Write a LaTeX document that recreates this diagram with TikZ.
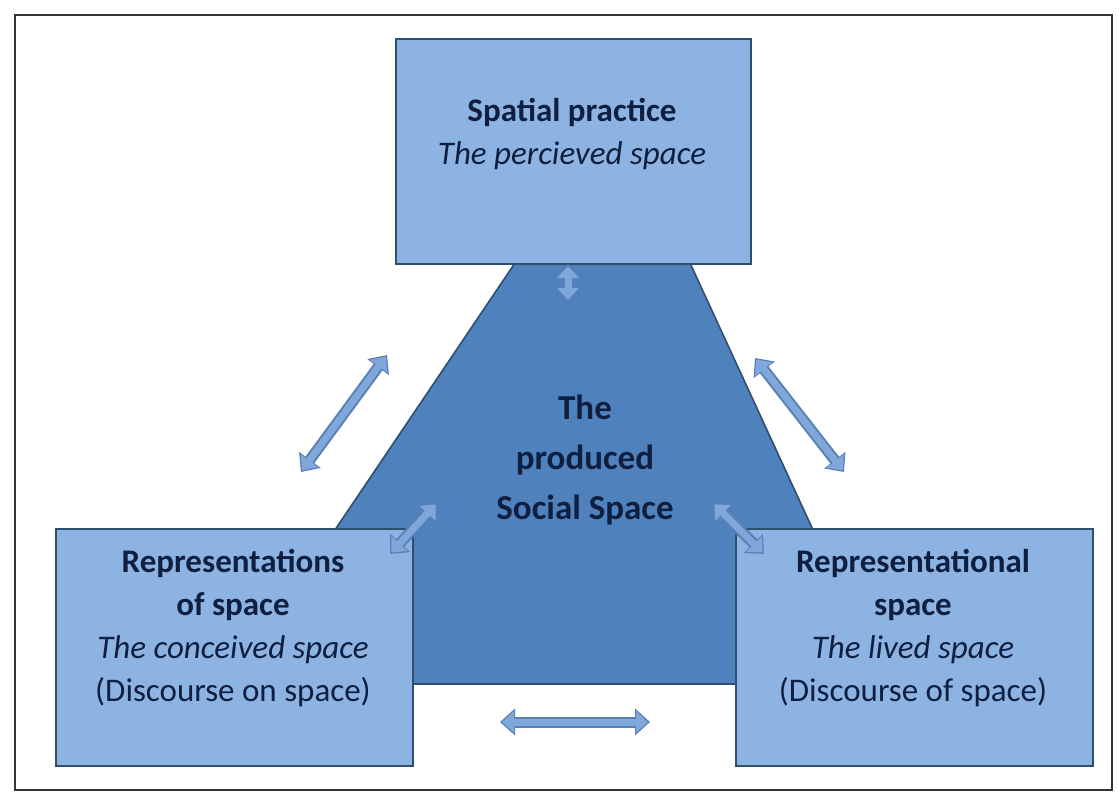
\documentclass[tikz,border=0pt]{standalone}
\usepackage{fontspec}
\setmainfont{Carlito}
\usetikzlibrary{arrows.meta}
\definecolor{boxfill}{HTML}{8DB3E2}
\definecolor{trifill}{HTML}{4F81BD}
\definecolor{edge}{HTML}{2F4F6F}
\definecolor{txt}{HTML}{0F1F3F}
\definecolor{arr}{HTML}{7FA7DA}
\definecolor{arredge}{HTML}{5A7FB5}
\tikzset{
  box/.style={draw=edge, line width=1.6pt, fill=boxfill, inner sep=0pt},
  dbl/.style={line width=11pt, arredge, {Triangle[width=26pt,length=15pt]}-{Triangle[width=26pt,length=15pt]}},
  dbli/.style={line width=7pt, arr, {Triangle[width=21pt,length=12pt]}-{Triangle[width=21pt,length=12pt]}, shorten <=2pt, shorten >=2pt},
}
\begin{document}
\begin{tikzpicture}[x=1pt,y=-1pt]
\useasboundingbox (0,0) rectangle (1119,801);
\draw[line width=1.2pt, black!80] (15,15) rectangle (1112,790);
% trapezoid
\draw[draw=edge, line width=1.6pt, fill=trifill] (515,263) -- (690,263) -- (884,684) -- (231,684) -- cycle;
% boxes
\node[box, minimum width=355, minimum height=225, anchor=north west] (top) at (395,38) {};
\node[box, minimum width=357, minimum height=237, anchor=north west] (left) at (55,528) {};
\node[box, minimum width=357, minimum height=237, anchor=north west] (right) at (735,528) {};
% texts
\node[txt, align=center, font=\fontsize{33}{43}\selectfont] (ttop) at (572,134) {\textbf{Spatial practice}\\\textit{The percieved space}};
\node[txt, align=center, font=\fontsize{35}{50}\selectfont\bfseries] (tmid) at (585,460) {The\\produced\\Social Space};
\node[txt, align=center, font=\fontsize{33}{43}\selectfont] (tleft) at (233,628) {\textbf{Representations}\\\textbf{of space}\\\textit{The conceived space}\\(Discourse on space)};
\node[txt, align=center, font=\fontsize{33}{43}\selectfont] (tright) at (913,628) {\textbf{Representational}\\\textbf{space}\\\textit{The lived space}\\(Discourse of space)};
% arrows
\coordinate (v1) at (568,264); \coordinate (v2) at (568,302);
\coordinate (l1) at (387,355); \coordinate (l2) at (301,472);
\coordinate (r1) at (755,358); \coordinate (r2) at (844,472);
\coordinate (il1) at (437,503); \coordinate (il2) at (390,554);
\coordinate (ir1) at (713,503); \coordinate (ir2) at (764,554);
\coordinate (b1) at (500,722); \coordinate (b2) at (650,722);
\foreach \a/\b in {v1/v2,l1/l2,r1/r2,il1/il2,ir1/ir2,b1/b2}{
  \draw[dbl] (\a) -- (\b);
  \draw[dbli] (\a) -- (\b);
}
\end{tikzpicture}
\end{document}
